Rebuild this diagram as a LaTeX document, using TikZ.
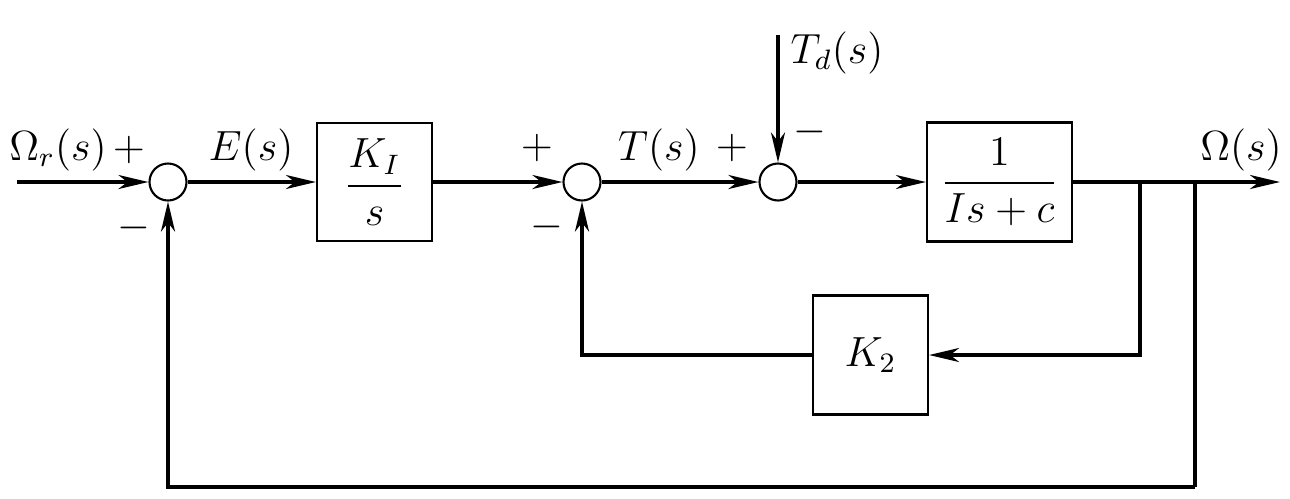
\documentclass[tikz,border=0pt]{standalone}
\usepackage{amsmath}
\usetikzlibrary{arrows.meta}
\begin{document}
\begin{tikzpicture}[
    every node/.style={font=\fontsize{11.5}{14}\selectfont},
    blk/.style={draw, line width=0.6pt, minimum width=1.15cm, minimum height=1.18cm, inner sep=2pt},
    sumpt/.style={draw, circle, line width=0.6pt, minimum size=0.37cm, inner sep=0pt},
    sig/.style={line width=1pt, -{Stealth[length=3mm, width=1.4mm, inset=0.9mm]}},
    wire/.style={line width=1pt},
    lbl/.style={inner sep=0pt, anchor=base}
]
    \useasboundingbox (0,0) rectangle (12.9,4.98);

    % Blocks and summing points
    \node[sumpt] (sum1) at (1.68,3.16) {};
    \node[blk] (integ) at (3.745,3.16) {$\dfrac{K_I}{s}$};
    \node[sumpt] (sum2) at (5.82,3.16) {};
    \node[sumpt] (sum3) at (7.78,3.16) {};
    \node[blk, minimum width=1.45cm, minimum height=1.19cm] (plant) at (9.995,3.16) {$\dfrac{1}{Is+c}$};
    \node[blk, minimum height=1.19cm] (gain) at (8.705,1.43) {$K_2$};

    % Free ends and branch points
    \coordinate (in) at (0.17,3.16);
    \coordinate (out) at (12.8,3.16);
    \coordinate (dist) at (7.78,4.63);
    \coordinate (br1) at (11.40,3.16);
    \coordinate (br2) at (11.95,3.16);
    \coordinate (low) at (11.95,0.11);

    % Forward path
    \draw[sig] (in) -- (sum1);
    \draw[sig] (sum1) -- (integ);
    \draw[sig] (integ) -- (sum2);
    \draw[sig] (sum2) -- (sum3);
    \draw[sig] (sum3) -- (plant);
    \draw[sig] (plant) -- (out);
    \draw[sig] (dist) -- (sum3);

    % Feedback loops
    \draw[sig] (br1) |- (gain);
    \draw[sig] (gain) -| (sum2);
    \draw[wire] (br2) -- (low);
    \draw[sig] (low) -| (sum1);

    % Labels
    \node[lbl] (omr) at (0.58,3.38) {$\Omega_r(s)$};
    \node (p1) at (1.29,3.48) {$+$};
    \node (m1) at (1.34,2.70) {$-$};
    \node[lbl] (err) at (2.51,3.38) {$E(s)$};
    \node (p2) at (5.37,3.50) {$+$};
    \node (m2) at (5.47,2.71) {$-$};
    \node[lbl] (trq) at (6.59,3.38) {$T(s)$};
    \node (p3) at (7.32,3.50) {$+$};
    \node (m3) at (8.10,3.66) {$-$};
    \node[lbl] (td) at (8.37,4.35) {$T_d(s)$};
    \node[lbl] (om) at (12.41,3.38) {$\Omega(s)$};
\end{tikzpicture}
\end{document}
